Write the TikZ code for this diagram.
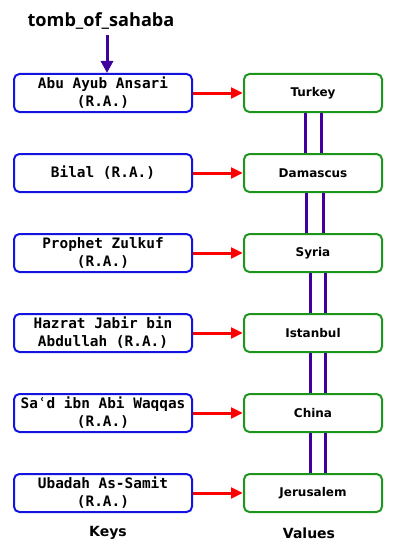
\documentclass[tikz,border=0pt]{standalone}
\usepackage{fontspec}
\usepackage{tikz}
\usetikzlibrary{arrows.meta,positioning}
\newfontfamily\keyfont{DejaVu Sans Mono}
\newfontfamily\valfont{DejaVu Sans}
\newfontfamily\titlefont{Open Sans}
\definecolor{keyblue}{RGB}{20,20,225}
\definecolor{valgreen}{RGB}{30,150,30}
\definecolor{linkred}{RGB}{255,0,0}
\definecolor{chainpurple}{RGB}{64,0,155}

\begin{document}
\begin{tikzpicture}[
  x=0.75pt, y=-0.75pt,
  node distance=30pt and 37.5pt,
  keybox/.style={draw=keyblue, line width=1.5pt, rounded corners=4pt, fill=white, inner xsep=2pt, inner ysep=0.5pt, align=center, minimum width=133.5pt, minimum height=28.5pt, font=\keyfont\bfseries\fontsize{10.8}{13.5}\selectfont},
  valbox/.style={draw=valgreen, line width=1.5pt, rounded corners=4pt, fill=white, inner sep=2pt, align=center, minimum width=103.5pt, minimum height=28.5pt, font=\valfont\bfseries\fontsize{9}{11}\selectfont},
  label/.style={font=\valfont\bfseries\fontsize{10.5}{12}\selectfont},
  arrow/.style={-{Triangle[length=9pt, width=8pt]}, line width=2.25pt, color=linkred},
  headarrow/.style={-{Triangle[length=9pt, width=9pt]}, line width=2.25pt, color=chainpurple},
  chain/.style={line width=2.25pt, color=chainpurple}
]
\useasboundingbox (0,0) rectangle (412,560);
\node[font=\titlefont\bfseries\fontsize{13.6}{16}\selectfont] (title) at (101,21) {tomb\_of\_sahaba};
\node[keybox] (k1) at (103,93) {Abu Ayub Ansari\\(R.A.)};
\node[keybox, below=of k1] (k2) {Bilal (R.A.)};
\node[keybox, below=of k2] (k3) {Prophet Zulkuf\\(R.A.)};
\node[keybox, below=of k3] (k4) {Hazrat Jabir bin\\Abdullah (R.A.)};
\node[keybox, below=of k4] (k5) {Saʿd ibn Abi Waqqas\\(R.A.)};
\node[keybox, below=of k5] (k6) {Ubadah As-Samit\\(R.A.)};
\node[valbox, right=of k1] (v1) {Turkey};
\node[valbox, right=of k2] (v2) {Damascus};
\node[valbox, right=of k3] (v3) {Syria};
\node[valbox, right=of k4] (v4) {Istanbul};
\node[valbox, right=of k5] (v5) {China};
\node[valbox, right=of k6] (v6) {Jerusalem};
\node[label] (keys) at (108,533) {Keys};
\node[label] (values) at (309,533) {Values};
\coordinate (start) at (107,35);
\draw[headarrow] (start) -- (start |- k1.north);
\draw[arrow] (k1) -- (v1);
\draw[arrow] (k2) -- (v2);
\draw[arrow] (k3) -- (v3);
\draw[arrow] (k4) -- (v4);
\draw[arrow] (k5) -- (v5);
\draw[arrow] (k6) -- (v6);
% double links between the values
\draw[chain] ([xshift=-6pt]v1.south) -- ([xshift=-6pt]v2.north);
\draw[chain] ([xshift=6pt]v1.south) -- ([xshift=6pt]v2.north);
\draw[chain] ([xshift=-5.25pt]v2.south) -- ([xshift=-5.25pt]v3.north);
\draw[chain] ([xshift=7.5pt]v2.south) -- ([xshift=7.5pt]v3.north);
\draw[chain] ([xshift=-2.25pt]v3.south) -- ([xshift=-2.25pt]v4.north);
\draw[chain] ([xshift=9pt]v3.south) -- ([xshift=9pt]v4.north);
\draw[chain] ([xshift=-2.25pt]v4.south) -- ([xshift=-2.25pt]v5.north);
\draw[chain] ([xshift=9pt]v4.south) -- ([xshift=9pt]v5.north);
\draw[chain] ([xshift=-2.25pt]v5.south) -- ([xshift=-2.25pt]v6.north);
\draw[chain] ([xshift=9pt]v5.south) -- ([xshift=9pt]v6.north);
\end{tikzpicture}
\end{document}
